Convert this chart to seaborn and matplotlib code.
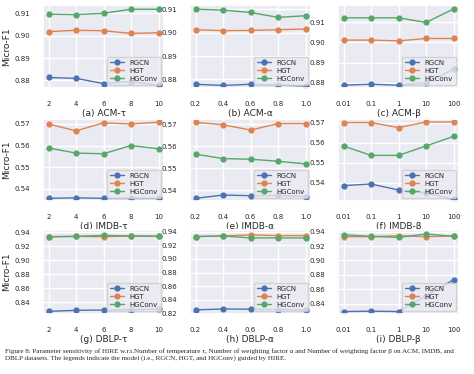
import numpy as np
import pandas as pd
import matplotlib
matplotlib.use("Agg")
import matplotlib.pyplot as plt
from matplotlib.ticker import MultipleLocator, FormatStrFormatter
import seaborn as sns

sns.set_theme(style="darkgrid")
plt.rcParams["font.family"] = ["DejaVu Sans"]

models = ["RGCN", "HGT", "HGConv"]

tau_x = [2, 4, 6, 8, 10]
alpha_x = [0.2, 0.4, 0.6, 0.8, 1.0]
beta_x = [0.01, 0.1, 1, 10, 100]
beta_labels = ["0.01", "0.1", "1", "10", "100"]

# ACM
acm_tau_rgcn = [0.8813, 0.8809, 0.8786, 0.8795, 0.8778]
acm_tau_hgt = [0.9018, 0.9024, 0.9022, 0.9010, 0.9013]
acm_tau_hgconv = [0.9096, 0.9094, 0.9100, 0.9118, 0.9118]

acm_alpha_rgcn = [0.8779, 0.8774, 0.8779, 0.8776, 0.8771]
acm_alpha_hgt = [0.9013, 0.9009, 0.9010, 0.9013, 0.9016]
acm_alpha_hgconv = [0.9101, 0.9097, 0.9087, 0.9066, 0.9073]

acm_beta_rgcn = [0.8787, 0.8792, 0.8787, 0.8800, 0.8866]
acm_beta_hgt = [0.9012, 0.9012, 0.9008, 0.9020, 0.9020]
acm_beta_hgconv = [0.9123, 0.9123, 0.9123, 0.9100, 0.9167]

# IMDB
imdb_tau_rgcn = [0.5355, 0.5358, 0.5355, 0.5355, 0.5355]
imdb_tau_hgt = [0.5700, 0.5668, 0.5705, 0.5700, 0.5708]
imdb_tau_hgconv = [0.5589, 0.5565, 0.5562, 0.5600, 0.5585]

imdb_alpha_rgcn = [0.5364, 0.5379, 0.5376, 0.5377, 0.5372]
imdb_alpha_hgt = [0.5708, 0.5697, 0.5673, 0.5702, 0.5702]
imdb_alpha_hgconv = [0.5564, 0.5544, 0.5541, 0.5532, 0.5520]

imdb_beta_rgcn = [0.5387, 0.5395, 0.5365, 0.5350, 0.5318]
imdb_beta_hgt = [0.5702, 0.5702, 0.5677, 0.5705, 0.5705]
imdb_beta_hgconv = [0.5585, 0.5538, 0.5538, 0.5585, 0.5633]

# DBLP
dblp_tau_rgcn = [0.8267, 0.8281, 0.8286, 0.8292, 0.8300]
dblp_tau_hgt = [0.9333, 0.9338, 0.9333, 0.9343, 0.9340]
dblp_tau_hgconv = [0.9333, 0.9338, 0.9352, 0.9343, 0.9340]

dblp_alpha_rgcn = [0.8255, 0.8269, 0.8265, 0.8260, 0.8255]
dblp_alpha_hgt = [0.9328, 0.9337, 0.9352, 0.9342, 0.9342]
dblp_alpha_hgconv = [0.9328, 0.9337, 0.9308, 0.9308, 0.9308]

dblp_beta_rgcn = [0.8289, 0.8294, 0.8289, 0.8510, 0.8730]
dblp_beta_hgt = [0.9330, 0.9330, 0.9344, 0.9330, 0.9340]
dblp_beta_hgconv = [0.9358, 0.9335, 0.9320, 0.9367, 0.9335]

panels = [
    ("(a) ACM-τ", tau_x, acm_tau_rgcn, acm_tau_hgt, acm_tau_hgconv),
    ("(b) ACM-α", alpha_x, acm_alpha_rgcn, acm_alpha_hgt, acm_alpha_hgconv),
    ("(c) ACM-β", beta_x, acm_beta_rgcn, acm_beta_hgt, acm_beta_hgconv),
    ("(d) IMDB-τ", tau_x, imdb_tau_rgcn, imdb_tau_hgt, imdb_tau_hgconv),
    ("(e) IMDB-α", alpha_x, imdb_alpha_rgcn, imdb_alpha_hgt, imdb_alpha_hgconv),
    ("(f) IMDB-β", beta_x, imdb_beta_rgcn, imdb_beta_hgt, imdb_beta_hgconv),
    ("(g) DBLP-τ", tau_x, dblp_tau_rgcn, dblp_tau_hgt, dblp_tau_hgconv),
    ("(h) DBLP-α", alpha_x, dblp_alpha_rgcn, dblp_alpha_hgt, dblp_alpha_hgconv),
    ("(i) DBLP-β", beta_x, dblp_beta_rgcn, dblp_beta_hgt, dblp_beta_hgconv),
]
y_steps = [0.01, 0.01, 0.02]
y_limits = [
    (0.8766, 0.9137), (0.8763, 0.9119), (0.8773, 0.9187),
    (0.5343, 0.5723), (0.5352, 0.5723), (0.5310, 0.5720),
    (0.8229, 0.9429), (0.8195, 0.9424), (0.8255, 0.9423),
]

W, H = 474, 374
fig = plt.figure(figsize=(W / 100, H / 100), dpi=100)

col_left = [43, 190, 338]
col_w = 121
rows = [(5, 88), (119, 201), (230, 314)]

for i, (label, xs, r, h, g) in enumerate(panels):
    row, col = divmod(i, 3)
    top, bottom = rows[row]
    ax = fig.add_axes([col_left[col] / W, 1 - bottom / H, col_w / W, (bottom - top) / H])
    df = pd.DataFrame({
        "x": list(xs) * 3,
        "y": r + h + g,
        "model": [m for m in models for _ in xs],
    })
    sns.lineplot(data=df, x="x", y="y", hue="model", marker="o", markersize=4.5,
                 markeredgewidth=0, linewidth=1, ax=ax)
    if xs is beta_x:
        ax.set_xscale("log")
        ax.set_xticks(beta_x)
        ax.set_xticklabels(beta_labels)
        ax.minorticks_off()
    else:
        ax.set_xticks(xs)
        if xs is alpha_x:
            ax.set_xticklabels([f"{v:.1f}" for v in xs])
    ax.set_ylim(*y_limits[i])
    ax.yaxis.set_major_locator(MultipleLocator(y_steps[row]))
    ax.yaxis.set_major_formatter(FormatStrFormatter("%.2f"))
    ax.tick_params(labelsize=5, pad=3.5)
    ax.set_xlabel(label, fontsize=6.5, labelpad=1.5)
    ax.set_ylabel("Micro-F1" if col == 0 else "", fontsize=6.5, labelpad=2)
    ax.legend(loc="lower right", fontsize=5, handlelength=2, borderpad=0.4,
              labelspacing=0.3, frameon=True)

caption = ("Figure 8: Parameter sensitivity of HIRE w.r.t.Number of temperature τ, Number of weighting factor α "
           "and Number of weighting factor β on ACM, IMDB, and\n"
           "DBLP datasets. The legends indicate the model (i.e., RGCN, HGT, and HGConv) guided by HIRE.")
fig.text(5 / W, 1 - 348 / H, caption, fontsize=5.15, family=["Liberation Serif", "DejaVu Serif"],
         va="top", ha="left", linespacing=1.3)

fig.savefig("out.png", dpi=100)
